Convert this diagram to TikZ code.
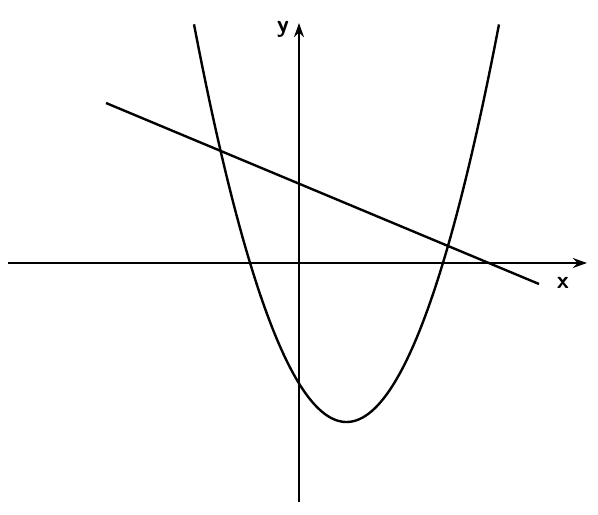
\documentclass[tikz,border=0pt]{standalone}
\usetikzlibrary{arrows.meta}

\begin{document}
\begin{tikzpicture}[line width=1.7pt, every node/.style={font=\sffamily\bfseries\LARGE}]
	\useasboundingbox (-7.475,-6.3) rectangle (7.475,6.575);

	\coordinate(xl) at (-7.275,0);
	\coordinate(xr) at (7.2,0);
	\coordinate(yb) at (0,-5.975);
	\coordinate(yt) at (0,6.0);
	\coordinate(l1) at (-4.825,4.0);
	\coordinate(l2) at (6.0,-0.525);

	\draw[-{Stealth[length=10pt,width=7pt]}](xl) -- (xr);
	\draw[-{Stealth[length=10pt,width=7pt]}](yb) -- (yt);
	\draw(l1) -- (l2);
	\draw plot[domain=-2.625:5, samples=120, smooth] (\x, {-3.975+0.684*(\x-1.1875)^2});

	\node(x) at (6.6,-0.5) {x};
	\node(y) at (-0.4,5.85) {y};
\end{tikzpicture}
\end{document}
